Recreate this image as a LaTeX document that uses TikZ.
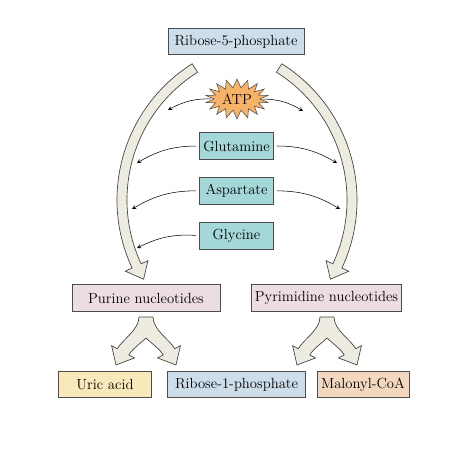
\documentclass[tikz,border=0pt]{standalone}
\usepackage{tikz}
\usepackage{xcolor}
\usetikzlibrary{shapes.geometric, shapes.symbols, arrows, positioning}
\definecolor{riboseblue}{RGB}{205,221,234}
\definecolor{aminoteal}{RGB}{163,215,216}
\definecolor{nucpink}{RGB}{236,221,227}
\definecolor{uricyellow}{RGB}{249,233,186}
\definecolor{malotan}{RGB}{243,215,190}
\definecolor{atporange}{RGB}{246,178,102}
\definecolor{flowbeige}{RGB}{238,236,225}
\tikzstyle{block} = [rectangle, minimum height=20pt, inner xsep=2pt, text centered, draw=black!70, line width=0.6pt]
\tikzstyle{arrow} = [thin,->,>=stealth,shorten <=2pt]
\tikzstyle{flow} = [draw=black!75, fill=flowbeige, line width=0.5pt]

\begin{document}
\begin{tikzpicture}[x=0.75pt, y=-0.75pt, font=\fontsize{11}{13}\selectfont]
\useasboundingbox (0,0) rectangle (474,474);

% big curved arrows
\begin{scope}[shift={(278,200)}]
\draw[flow] (237.8:151) arc[start angle=237.8, end angle=155, radius=151] -- (155:143.5) -- (149.5:156) -- (155:168.5) -- (155:161) arc[start angle=155, end angle=237.8, radius=161] -- cycle;
\end{scope}
\begin{scope}[shift={(196,200)}]
\draw[flow] (-57.8:151) arc[start angle=-57.8, end angle=25, radius=151] -- (25:143.5) -- (30.5:156) -- (25:168.5) -- (25:161) arc[start angle=25, end angle=-57.8, radius=161] -- cycle;
\end{scope}

% boxes
\node (r5p) [block, fill=riboseblue, minimum width=102pt] at (236,41.5) {Ribose-5-phosphate};
\node (atp) [starburst, starburst points=18, starburst point height=6.5pt, random starburst=0, draw=black!70, fill=atporange, minimum width=41pt, minimum height=30pt, inner sep=1pt] at (237,99) {ATP};
\node (glu) [block, fill=aminoteal, minimum width=56pt] at (236.5,146) {Glutamine};
\node (asp) [block, fill=aminoteal, minimum width=56pt, below=13pt of glu] {Aspartate};
\node (gly) [block, fill=aminoteal, minimum width=56pt, below=13pt of asp] {Glycine};
\node (pur) [block, fill=nucpink, minimum width=111pt] at (146,298) {Purine nucleotides};
\node (pyr) [block, fill=nucpink, minimum width=113pt] at (326.5,298) {Pyrimidine nucleotides};
\node (uric) [block, fill=uricyellow, minimum width=70pt] at (105,384.5) {Uric acid};
\node (r1p) [block, fill=riboseblue, minimum width=103pt] at (236.5,384.5) {Ribose-1-phosphate};
\node (mal) [block, fill=malotan, minimum width=69pt] at (363,384.5) {Malonyl-CoA};

% ends on the big arrows
\coordinate (atpl) at (168,110);
\coordinate (atpr) at (303,111);
\coordinate (glul) at (137,163);
\coordinate (glur) at (337,163);
\coordinate (aspl) at (132,209);
\coordinate (aspr) at (340,209);
\coordinate (glyl) at (137,248);

\draw [arrow] (atp.west) to[bend right=15] (atpl);
\draw [arrow] (atp.east) to[bend left=15] (atpr);
\draw [arrow] (glu.west) to[bend right=15] (glul);
\draw [arrow] (glu.east) to[bend left=15] (glur);
\draw [arrow] (asp.west) to[bend right=15] (aspl);
\draw [arrow] (asp.east) to[bend left=15] (aspr);
\draw [arrow] (gly.west) to[bend right=15] (glyl);

% split arrows
\begin{scope}[shift={(146,317)}]
\draw[flow] (-7,0) .. controls (-7,13) and (-24,22.9) .. (-28.7,31.7) -- (-34.4,28.7) -- (-30,48) -- (-11.5,40.9) -- (-17.2,37.9) .. controls (-14.4,32.6) and (-4,25) .. (0,21) .. controls (4,25) and (14.4,32.6) .. (17.2,37.9) -- (11.5,40.9) -- (30,48) -- (34.4,28.7) -- (28.7,31.7) .. controls (24,22.9) and (7,13) .. (7,0) -- cycle;
\end{scope}
\begin{scope}[shift={(327,317)}]
\draw[flow] (-7,0) .. controls (-7,13) and (-24,22.9) .. (-28.7,31.7) -- (-34.4,28.7) -- (-30,48) -- (-11.5,40.9) -- (-17.2,37.9) .. controls (-14.4,32.6) and (-4,25) .. (0,21) .. controls (4,25) and (14.4,32.6) .. (17.2,37.9) -- (11.5,40.9) -- (30,48) -- (34.4,28.7) -- (28.7,31.7) .. controls (24,22.9) and (7,13) .. (7,0) -- cycle;
\end{scope}
\end{tikzpicture}
\end{document}
